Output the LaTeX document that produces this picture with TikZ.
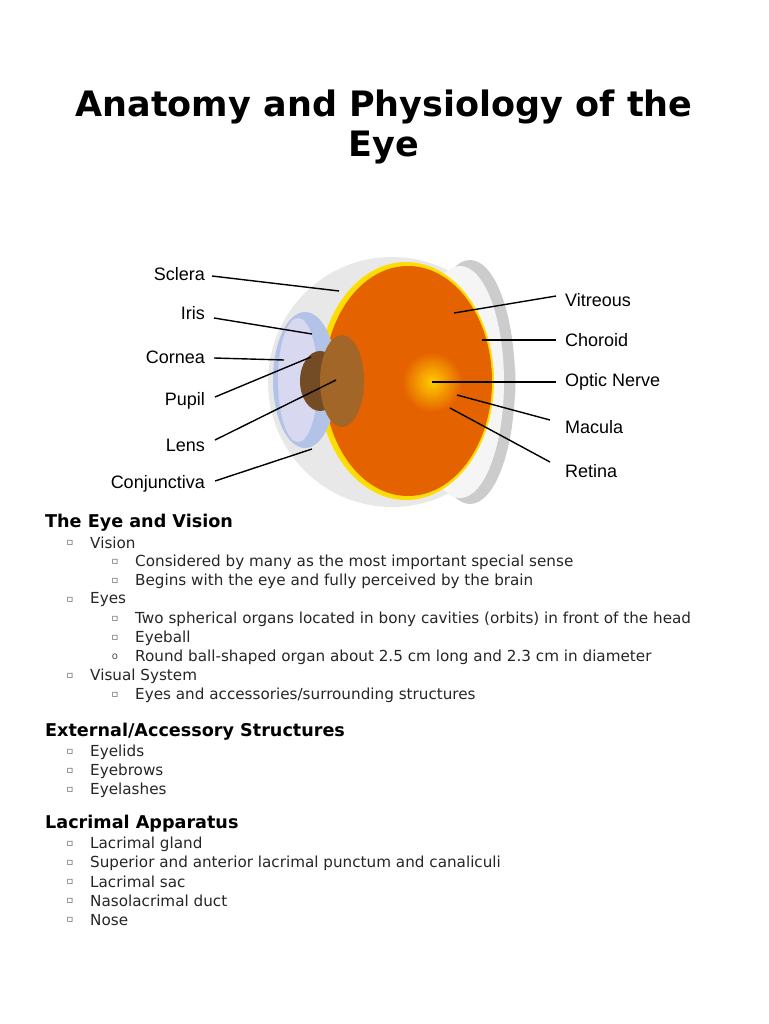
\documentclass[tikz,border=0pt]{standalone}
\usepackage{fontspec}
\setmainfont{DejaVu Sans}
\newfontfamily\lblfont{Liberation Sans}
\begin{document}
\begin{tikzpicture}[x=1pt,y=-1pt,
  lbl/.style={font=\lblfont\fontsize{18}{20}\selectfont, inner sep=0pt},
  ll/.style={black, line width=1.4pt},
  body/.style={font=\fontsize{15.2}{17}\selectfont, anchor=west, inner sep=0pt, text=black!85},
  bul/.style={font=\fontsize{10}{11}\selectfont, anchor=center, inner sep=0pt, text=black!70},
  head/.style={font=\bfseries\fontsize{17.6}{20}\selectfont, anchor=west, inner sep=0pt}]
\useasboundingbox[fill=white] (0,0) rectangle (768,1024);
\node[font=\bfseries\fontsize{35}{40}\selectfont] (t1) at (384,107) {Anatomy and Physiology of the};
\node[font=\bfseries\fontsize{35}{40}\selectfont] (t2) at (384,148) {Eye};
% eye
\fill[gray!18] (392,382) ellipse (124 and 125);
\fill[gray!40] (470,382) ellipse (45 and 122);
\fill[white!92!gray] (460,382) ellipse (44 and 116);
\fill[yellow!80!orange] (406,381) ellipse (88 and 119);
\fill[orange!85!red!90!black] (408,381) ellipse (84 and 115);
\shade[inner color=orange!40!yellow, outer color=orange!85!red!90!black] (432,382) circle (30);
\fill[cyan!45!blue!30!white] (305,380) ellipse (32 and 68);
\fill[cyan!25!blue!15!white] (298,380) ellipse (20 and 62);
\fill[brown!60!black] (320,381) ellipse (20 and 30);
\fill[brown!80!orange!80!black] (342,381) ellipse (22 and 46);
% labels
\node[lbl,anchor=east] (sc) at (205,274) {Sclera};
\node[lbl,anchor=east] (ir) at (205,313) {Iris};
\node[lbl,anchor=east] (co) at (205,357) {Cornea};
\node[lbl,anchor=east] (pu) at (205,401) {Pupil};
\node[lbl,anchor=east] (le) at (205,445) {Lens};
\node[lbl,anchor=east] (cj) at (205,484) {Conjunctiva};
\node[lbl,anchor=west] (vi) at (565,300) {Vitreous};
\node[lbl,anchor=west] (ch) at (565,340) {Choroid};
\node[lbl,anchor=west] (op) at (565,382) {Optic Nerve};
\node[lbl,anchor=west] (ma) at (565,427) {Macula};
\node[lbl,anchor=west] (re) at (565,471) {Retina};
\coordinate (psc) at (339,291); \coordinate (pir) at (312,334);
\coordinate (pco) at (284,360); \coordinate (ppu) at (311,357);
\coordinate (ple) at (336,380); \coordinate (pcj) at (312,449);
\coordinate (pvi) at (454,313); \coordinate (pch) at (482,340);
\coordinate (pop) at (432,382); \coordinate (pma) at (457,395);
\coordinate (pre) at (450,408);
\draw[ll] (212,276) -- (psc);
\draw[ll] (214,318) -- (pir);
\draw[ll] (214,358) -- (pco);
\draw[ll] (215,397) -- (ppu);
\draw[ll] (215,440) -- (ple);
\draw[ll] (215,481) -- (pcj);
\draw[ll] (556,296) -- (pvi);
\draw[ll] (556,340) -- (pch);
\draw[ll] (556,382) -- (pop);
\draw[ll] (550,420) -- (pma);
\draw[ll] (550,462) -- (pre);
% text
\node[head] (h1) at (45,523) {The Eye and Vision};
\foreach \y/\lv/\t/\b in {543/1/Vision/▫, 562/2/Considered by many as the most important special sense/▫,
  581/2/Begins with the eye and fully perceived by the brain/▫, 600/1/Eyes/▫,
  619/2/Two spherical organs located in bony cavities (orbits) in front of the head/▫,
  638/2/Eyeball/▫, 657/2/Round ball-shaped organ about 2.5 cm long and 2.3 cm in diameter/o,
  676/1/Visual System/▫, 695/2/{Eyes and accessories/surrounding structures}/▫,
  752/1/Eyelids/▫, 771/1/Eyebrows/▫, 790/1/Eyelashes/▫,
  844/1/Lacrimal gland/▫, 863/1/Superior and anterior lacrimal punctum and canaliculi/▫,
  882/1/Lacrimal sac/▫, 901/1/Nasolacrimal duct/▫, 920/1/Nose/▫}{
  \node[bul] at ({70+45*(\lv-1)},\y) {\b};
  \node[body] at ({90+45*(\lv-1)},\y) {\t};
}
\node[head] (h2) at (45,732) {External/Accessory Structures};
\node[head] (h3) at (45,824) {Lacrimal Apparatus};
\end{tikzpicture}
\end{document}
